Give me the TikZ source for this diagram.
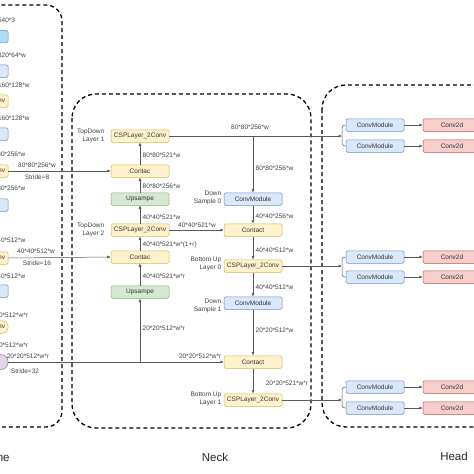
\documentclass[tikz,border=0pt]{standalone}
\usepackage{fontspec}
\setmainfont{Liberation Sans}
\usetikzlibrary{arrows.meta,positioning}

\definecolor{ylwfill}{HTML}{FFF2CC}
\definecolor{ylwline}{HTML}{D6B656}
\definecolor{bluefill}{HTML}{DAE8FC}
\definecolor{blueline}{HTML}{6C8EBF}
\definecolor{grnfill}{HTML}{D5E8D4}
\definecolor{grnline}{HTML}{82B366}
\definecolor{redfill}{HTML}{F8CECC}
\definecolor{redline}{HTML}{B85450}
\definecolor{purpfill}{HTML}{E1D5E7}
\definecolor{purpline}{HTML}{9673A6}
\definecolor{cyanfill}{HTML}{B1DDF0}
\definecolor{cyanline}{HTML}{6C8EBF}

\begin{document}
\begin{tikzpicture}[x=1pt,y=-1pt,
    box/.style={draw, rounded corners=1.5pt, line width=0.5pt,
        minimum width=58pt, minimum height=12.5pt, inner sep=0pt,
        font=\fontsize{6.5}{7.5}\selectfont, text=black!80},
    csp/.style={box, fill=ylwfill, draw=ylwline},
    conv/.style={box, fill=bluefill, draw=blueline},
    ups/.style={box, fill=grnfill, draw=grnline},
    outbox/.style={box, fill=redfill, draw=redline},
    lbl/.style={font=\fontsize{6.5}{7.5}\selectfont, text=black!75, inner sep=0.5pt},
    side/.style={lbl, align=right, anchor=east, font=\fontsize{6.5}{8}\selectfont},
    link/.style={draw=black!65, line width=0.5pt, -{Latex[length=3.5pt,width=3pt]}},
    plain/.style={draw=black!65, line width=0.5pt},
    region/.style={draw=black, line width=1.3pt, dash pattern=on 4pt off 3pt},
    title/.style={font=\fontsize{11.5}{13}\selectfont, text=black!85}]

\useasboundingbox (0,0) rectangle (474,474);
\clip (0,0) rectangle (474,474);

% dashed regions
\draw[region, rounded corners=16pt] (-40,5) rectangle (62,427);
\draw[region, rounded corners=24pt] (72,94) rectangle (311,428);
\draw[region, rounded corners=24pt] (322,85) rectangle (530,427);
\node[title] (tback) at (-16,457) {Backbone};
\node[title] (tneck) at (215,457) {Neck};
\node[title] (thead) at (454,456) {Head};

% backbone (cut at the left edge)
\node[box, fill=cyanfill, draw=cyanline] (bb0) at (-21,36.5) {};
\node[conv] (bb1) at (-21,71) {};
\node[csp] (bb2) at (-21,101) {CSPLayer\_2Conv};
\node[conv] (bb3) at (-21,134) {};
\node[csp] (bb4) at (-21,171) {CSPLayer\_2Conv};
\node[conv] (bb5) at (-21,205) {};
\node[csp] (bb6) at (-21,258) {CSPLayer\_2Conv};
\node[conv] (bb7) at (-21,291) {};
\node[csp, rounded corners=5pt] (bb8) at (-21,327) {CSPLayer\_2Conv};
\node[box, fill=purpfill, draw=purpline, rounded corners=7pt,
    minimum height=15pt] (bb9) at (-21,362) {};
\node[lbl, anchor=west] (bt0) at (-16,20) {640*640*3};
\node[lbl, anchor=west] (bt1) at (-16,55) {320*320*64*w};
\node[lbl, anchor=west] (bt2) at (-16,85) {160*160*128*w};
\node[lbl, anchor=west] (bt3) at (-16,118) {160*160*128*w};
\node[lbl, anchor=west] (bt4) at (-13,154) {80*80*256*w};
\node[lbl, anchor=west] (bt5) at (-13,188) {80*80*256*w};
\node[lbl, anchor=west] (bt6) at (-13,240) {40*40*512*w};
\node[lbl, anchor=west] (bt7) at (-13,276) {40*40*512*w};
\node[lbl, anchor=west] (bt8) at (-15,315) {20*20*512*w*r};
\node[lbl, anchor=west] (bt9) at (-15,345) {20*20*512*w*r};

% neck, top-down path
\node[csp] (td1) at (140,136) {CSPLayer\_2Conv};
\node[csp] (cat1) at (140,171) {Contac};
\node[ups] (up1) at (140,199) {Upsampe};
\node[csp] (td2) at (140,230) {CSPLayer\_2Conv};
\node[csp] (cat2) at (140,257) {Contac};
\node[ups] (up2) at (140,292) {Upsampe};
\node[side] (tdl1) at (105,136) {TopDown\\Layer 1};
\node[side] (tdl2) at (105,230) {TopDown\\Layer 2};

% neck, bottom-up path
\node[conv] (ds0) at (253,199) {ConvModule};
\node[csp] (cat3) at (253,230) {Contact};
\node[csp] (bu0) at (253,266) {CSPLayer\_2Conv};
\node[conv] (ds1) at (253,303) {ConvModule};
\node[csp] (cat4) at (253,362) {Contact};
\node[csp] (bu1) at (253,400) {CSPLayer\_2Conv};
\node[side] (dsl0) at (222,198) {Down\\Sample 0};
\node[side] (bul0) at (222,264) {Bottom Up\\Layer 0};
\node[side] (dsl1) at (222,306) {Down\\Sample 1};
\node[side] (bul1) at (222,399) {Bottom Up\\Layer 1};

% head
\node[conv] (h1a) at (375,125) {ConvModule};
\node[conv] (h1b) at (375,146) {ConvModule};
\node[conv] (h2a) at (375,257) {ConvModule};
\node[conv] (h2b) at (375,277) {ConvModule};
\node[conv] (h3a) at (375,387) {ConvModule};
\node[conv] (h3b) at (375,408) {ConvModule};
\node[outbox] (c1a) at (452,125) {Conv2d};
\node[outbox] (c1b) at (452,146) {Conv2d};
\node[outbox] (c2a) at (452,257) {Conv2d};
\node[outbox] (c2b) at (452,277) {Conv2d};
\node[outbox] (c3a) at (452,387) {Conv2d};
\node[outbox] (c3b) at (452,408) {Conv2d};
\coordinate (f1) at (342,135.5);
\coordinate (f2) at (342,267);
\coordinate (f3) at (342,397.5);

% backbone outputs
\draw[link] (bb4.east) -- (cat1.west);
\draw[link] (bb6.east) -- (cat2.west);
\draw[link] (bb9.east) -- (cat4.west);
\coordinate (br2) at (up2.south |- bb9.east);
\draw[link] (br2) -- (up2.south);
\node[lbl] (s8a) at (37,165) {80*80*256*w};
\node[lbl] (s8b) at (37,177) {Stride=8};
\node[lbl] (s16a) at (36,251) {40*40*512*w};
\node[lbl] (s16b) at (37,263) {Stride=16};
\node[lbl] (s32a) at (28,356) {20*20*512*w*r};
\node[lbl] (s32b) at (25,371) {Stride=32};

% top-down connections
\draw[link] (cat1.north) -- (td1.south);
\draw[link] (up1.north) -- (cat1.south);
\draw[link] (td2.north) -- (up1.south);
\draw[link] (cat2.north) -- (td2.south);
\draw[link] (up2.north) -- (cat2.south);
\node[lbl, anchor=west] (e1) at (142,155) {80*80*521*w};
\node[lbl, anchor=west] (e2) at (142,186) {80*80*256*w};
\node[lbl, anchor=west] (e3) at (142,217) {40*40*521*w};
\node[lbl, anchor=west] (e4) at (142,245) {40*40*521*w*(1+r)};
\node[lbl, anchor=west] (e5) at (142,276) {40*40*521*w*r};
\node[lbl, anchor=west] (e6) at (142,328) {20*20*512*w*r};

% bottom-up connections
\draw[link] (td1.east) -- (td1.east -| f1);
\coordinate (br1) at (ds0.north |- td1.east);
\draw[link] (br1) -- (ds0.north);
\draw[link] (td2.east) -- (cat3.west);
\draw[link] (ds0.south) -- (cat3.north);
\draw[link] (cat3.south) -- (bu0.north);
\draw[link] (bu0.south) -- (ds1.north);
\draw[link] (ds1.south) -- (cat4.north);
\draw[link] (cat4.south) -- (bu1.north);
\draw[link] (bu0.east) -- (bu0.east -| f2);
\draw[link] (bu1.east) -- (bu1.east -| f3);
\node[lbl] (e7) at (250,127) {80*80*256*w};
\node[lbl] (e8) at (197,225) {40*40*521*w};
\node[lbl, anchor=east] (e9) at (222,356) {20*20*512*w*r};
\node[lbl] (e10) at (287,383) {20*20*521*w*r};
\node[lbl, anchor=west] (e11) at (255,168) {80*80*256*w};
\node[lbl, anchor=west] (e12) at (255,216) {40*40*256*w};
\node[lbl, anchor=west] (e13) at (255,250) {40*40*512*w};
\node[lbl, anchor=west] (e14) at (255,287) {40*40*512*w};
\node[lbl, anchor=west] (e15) at (255,330) {20*20*512*w};

% head forks
\draw[plain, rounded corners=3pt] (h1a.west) -| (f1) |- (h1b.west);
\draw[plain, rounded corners=3pt] (h2a.west) -| (f2) |- (h2b.west);
\draw[plain, rounded corners=3pt] (h3a.west) -| (f3) |- (h3b.west);
\draw[link] (h1a.east) -- (c1a.west);
\draw[link] (h1b.east) -- (c1b.west);
\draw[link] (h2a.east) -- (c2a.west);
\draw[link] (h2b.east) -- (c2b.west);
\draw[link] (h3a.east) -- (c3a.west);
\draw[link] (h3b.east) -- (c3b.west);
\end{tikzpicture}
\end{document}
